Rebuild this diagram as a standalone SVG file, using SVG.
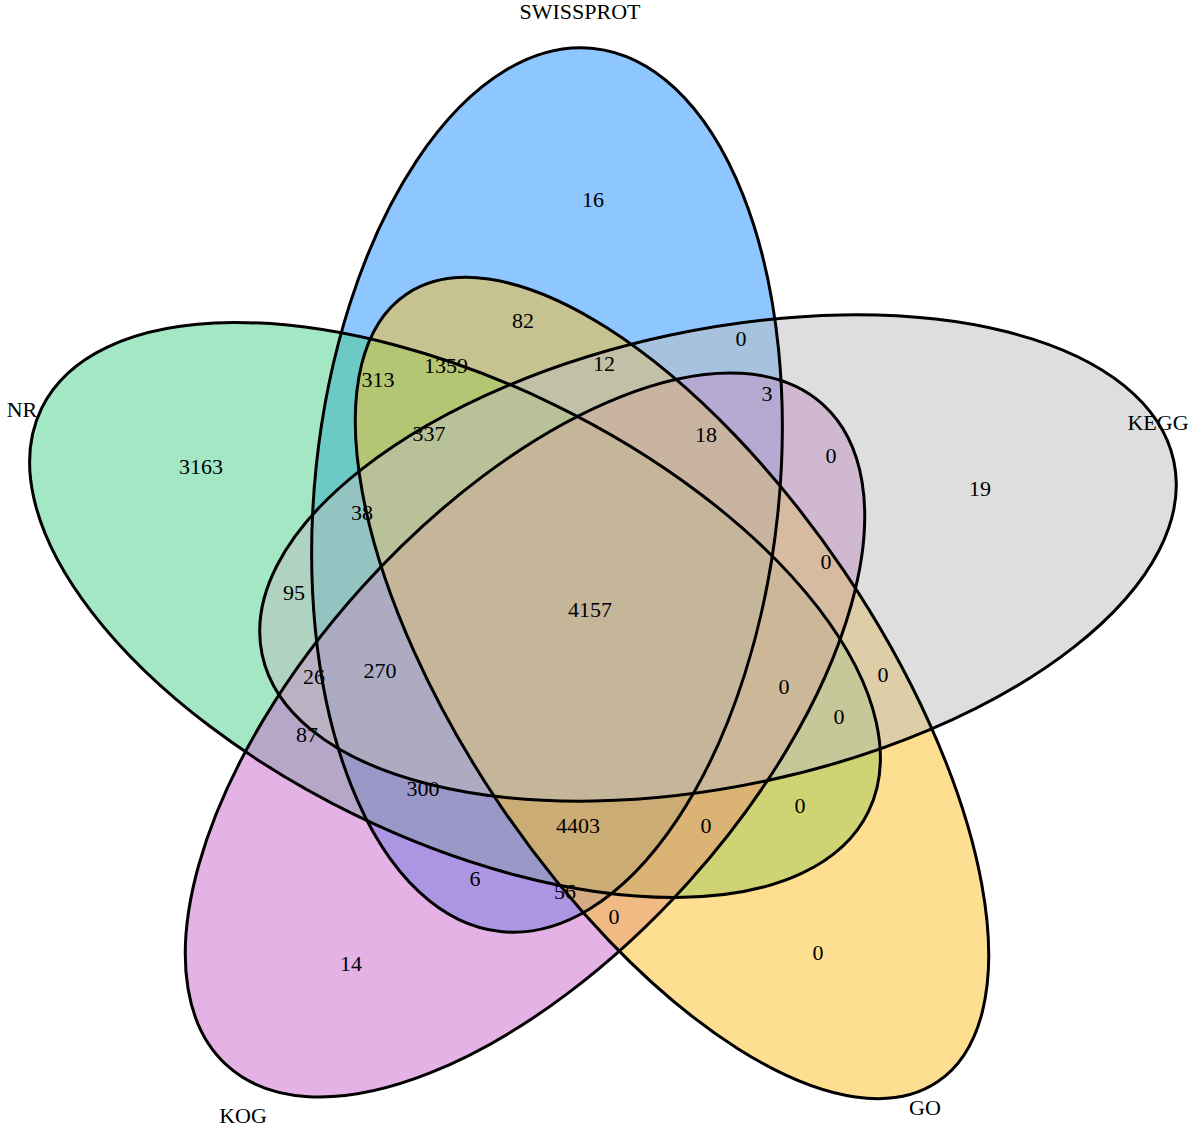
<svg xmlns="http://www.w3.org/2000/svg" width="1200" height="1131" viewBox="0 0 1200 1131">
<style>
.f{fill-opacity:0.5;stroke:none}
.o{fill:none;stroke:#000;stroke-width:3}
text{font-family:"Liberation Serif",serif;font-size:22px;text-anchor:middle;dominant-baseline:middle;fill:#000}
</style>
<defs>
<ellipse id="eNR" cx="455" cy="610" rx="460" ry="228" transform="rotate(26 455 610)"/>
<ellipse id="eSW" cx="547" cy="490" rx="444" ry="232" transform="rotate(-84 547 490)"/>
<ellipse id="eKE" cx="718" cy="558" rx="466" ry="228" transform="rotate(-12 718 558)"/>
<ellipse id="eGO" cx="672" cy="688" rx="475" ry="208" transform="rotate(56 672 688)"/>
<ellipse id="eKO" cx="525" cy="735" rx="445" ry="220" transform="rotate(-48 525 735)"/>
</defs>
<rect width="1200" height="1131" fill="#fff"/>
<g id="fills">
<use href="#eSW" class="f" fill="#1D8DFF"/>
<use href="#eNR" class="f" fill="#47CF89"/>
<use href="#eKO" class="f" fill="#C965C9"/>
<use href="#eGO" class="f" fill="#FDBF23"/>
<use href="#eKE" class="f" fill="#BDBDBD"/>
</g>
<g id="outlines">
<use id="NR" href="#eNR" class="o"/>
<use id="SWISSPROT" href="#eSW" class="o"/>
<use id="KEGG" href="#eKE" class="o"/>
<use id="GO" href="#eGO" class="o"/>
<use id="KOG" href="#eKO" class="o"/>
</g>
<g id="labels">
<text x="580" y="14">SWISSPROT</text><text x="22" y="412">NR</text><text x="1158" y="425">KEGG</text>
<text x="243" y="1118">KOG</text><text x="925" y="1110">GO</text>
<text x="593" y="202">16</text><text x="523" y="323">82</text><text x="741" y="341">0</text>
<text x="378" y="382">313</text><text x="446" y="368">1359</text><text x="604" y="366">12</text><text x="767" y="396">3</text>
<text x="201" y="469">3163</text><text x="429" y="436">337</text><text x="706" y="437">18</text><text x="831" y="458">0</text>
<text x="980" y="491">19</text><text x="362" y="515">38</text><text x="294" y="595">95</text><text x="826" y="564">0</text>
<text x="590" y="612">4157</text><text x="314" y="679">26</text><text x="380" y="673">270</text><text x="784" y="689">0</text>
<text x="883" y="677">0</text><text x="839" y="719">0</text><text x="307" y="737">87</text><text x="423" y="791">300</text>
<text x="578" y="828">4403</text><text x="706" y="828">0</text><text x="800" y="808">0</text><text x="475" y="881">6</text>
<text x="565" y="894">56</text><text x="614" y="919">0</text><text x="818" y="955">0</text><text x="351" y="966">14</text>
</g>
</svg>
